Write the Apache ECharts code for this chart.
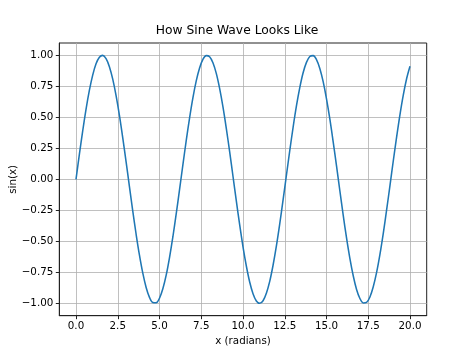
<!DOCTYPE html>
<html>
<head>
<meta charset="utf-8">
<script src="https://cdn.jsdelivr.net/npm/echarts@6/dist/echarts.min.js"></script>
<style>html,body{margin:0;padding:0;background:#fff}#c{width:474px;height:355px}</style>
</head>
<body>
<div id="c"></div>
<script>
// x positions (radians)
const xValues = [0.0,0.2,0.4,0.6,0.8,1.0,1.2,1.4,1.6,1.8,2.0,2.2,2.4,2.6,2.8,3.0,3.2,3.4,3.6,3.8,
4.0,4.2,4.4,4.6,4.8,5.0,5.2,5.4,5.6,5.8,6.0,6.2,6.4,6.6,6.8,7.0,7.2,7.4,7.6,7.8,
8.0,8.2,8.4,8.6,8.8,9.0,9.2,9.4,9.6,9.8,10.0,10.2,10.4,10.6,10.8,11.0,11.2,11.4,11.6,11.8,
12.0,12.2,12.4,12.6,12.8,13.0,13.2,13.4,13.6,13.8,14.0,14.2,14.4,14.6,14.8,15.0,15.2,15.4,15.6,15.8,
16.0,16.2,16.4,16.6,16.8,17.0,17.2,17.4,17.6,17.8,18.0,18.2,18.4,18.6,18.8,19.0,19.2,19.4,19.6,19.8,20.0];
// sin(x) values
const yValues = [0.000,0.199,0.389,0.565,0.717,0.841,0.932,0.985,1.000,0.974,0.909,0.808,0.675,0.516,0.335,0.141,-0.058,-0.256,-0.443,-0.612,
-0.757,-0.872,-0.952,-0.994,-0.996,-0.959,-0.883,-0.773,-0.631,-0.465,-0.279,-0.083,0.117,0.312,0.494,0.657,0.794,0.899,0.968,0.998,
0.989,0.941,0.855,0.734,0.585,0.412,0.223,0.025,-0.174,-0.366,-0.544,-0.699,-0.828,-0.922,-0.981,-1.000,-0.979,-0.918,-0.823,-0.693,
-0.537,-0.359,-0.166,0.033,0.231,0.420,0.592,0.740,0.860,0.944,0.991,0.998,0.966,0.895,0.788,0.650,0.487,0.303,0.108,-0.092,
-0.288,-0.473,-0.638,-0.778,-0.888,-0.961,-0.997,-0.993,-0.949,-0.867,-0.751,-0.605,-0.435,-0.247,-0.050,0.150,0.343,0.523,0.682,0.814,0.913];
const xTicks = [0, 2.5, 5, 7.5, 10, 12.5, 15, 17.5, 20];
const yTicks = [-1, -0.75, -0.5, -0.25, 0, 0.25, 0.5, 0.75, 1];
const titleText = 'How Sine Wave Looks Like';
const xName = 'x (radians)';
const yName = 'sin(x)';

const FONT = 'DejaVu Sans';
const chart = echarts.init(document.getElementById('c'), null, {renderer: 'canvas'});
chart.setOption({
  animation: false,
  backgroundColor: '#fff',
  title: {
    text: titleText, left: 'center', top: 25, padding: 0,
    textStyle: {fontFamily: FONT, fontSize: 12.3, fontWeight: 'normal', color: '#000'}
  },
  grid: {left: 59.3, right: 47.3, top: 43, bottom: 39.3, show: true,
    outerBoundsMode: 'none', containLabel: false,
    borderColor: '#222', borderWidth: 1, backgroundColor: 'transparent'},
  xAxis: {
    type: 'value', min: -1, max: 21,
    name: xName, nameLocation: 'middle', nameGap: 21, nameMoveOverlap: false,
    nameTextStyle: {fontFamily: FONT, fontSize: 10.3, color: '#000'},
    axisLine: {show: true, onZero: false, lineStyle: {color: '#222', width: 1}},
    axisTick: {show: true, length: 3.5, customValues: xTicks, lineStyle: {color: '#222', width: 1}},
    axisLabel: {customValues: xTicks, margin: 6, fontFamily: FONT, fontSize: 10.3, color: '#000',
      formatter: v => (v < 0 ? '\u2212' : '') + Math.abs(v).toFixed(1)},
    splitLine: {show: true, lineStyle: {color: '#b0b0b0', width: 0.8}}
  },
  yAxis: {
    type: 'value', min: -1.1, max: 1.1,
    name: yName, nameLocation: 'middle', nameGap: 41, nameMoveOverlap: false,
    nameTextStyle: {fontFamily: FONT, fontSize: 10.3, color: '#000'},
    axisLine: {show: true, onZero: false, lineStyle: {color: '#222', width: 1}},
    axisTick: {show: true, length: 3.5, customValues: yTicks, lineStyle: {color: '#222', width: 1}},
    axisLabel: {customValues: yTicks, margin: 6, fontFamily: FONT, fontSize: 10.3, color: '#000',
      formatter: v => (v < 0 ? '\u2212' : '') + Math.abs(v).toFixed(2)},
    splitLine: {show: true, lineStyle: {color: '#b0b0b0', width: 0.8}}
  },
  series: [{
    type: 'line', data: xValues.map((x, i) => [x, yValues[i]]),
    showSymbol: false, smooth: 0.35, clip: true,
    lineStyle: {color: '#1f77b4', width: 1.55}
  }]
});
</script>
</body>
</html>
